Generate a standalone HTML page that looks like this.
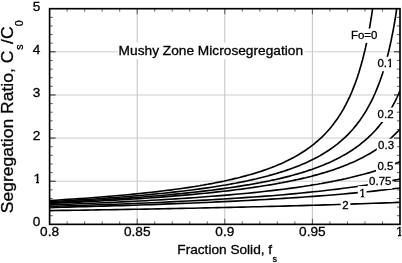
<!DOCTYPE html>
<html><head><meta charset="utf-8"><title>Mushy Zone Microsegregation</title>
<style>
html,body{margin:0;padding:0;background:#fff;}
body{width:402px;height:263px;overflow:hidden;}
svg{display:block;font-family:"Liberation Sans",Arial,Helvetica,sans-serif;fill:#000;}
text{stroke:#000;stroke-width:0.3px;}
</style></head><body>
<svg width="402" height="263" viewBox="0 0 402 263">
<rect width="402" height="263" fill="#fff"/>
<clipPath id="c"><rect x="49.6" y="8.7" width="350.4" height="215.65"/></clipPath>
<path d="M137.20,8.7V224.35 M224.80,8.7V224.35 M312.40,8.7V224.35" stroke="#c6c6c6" stroke-width="1.1" fill="none"/>
<path d="M49.6,181.22H400.0 M49.6,138.09H400.0 M49.6,94.96H400.0 M49.6,51.83H400.0" stroke="#cdcdcd" stroke-width="1" fill="none"/>
<rect x="118" y="42.6" width="186.5" height="16.5" fill="#fff"/>
<text transform="translate(118.6,54.6) scale(1.02,1)" font-size="13.45">Mushy Zone Microsegregation</text>
<g clip-path="url(#c)" stroke="#000" stroke-width="1.65" fill="none" stroke-linejoin="round">
<path d="M49.6,200.5L55.6,200.2L61.6,199.8L67.6,199.4L73.6,199.0L79.6,198.6L85.6,198.2L91.6,197.8L97.6,197.3L103.6,196.8L109.6,196.3L115.6,195.8L121.6,195.3L127.6,194.7L133.6,194.1L139.6,193.5L145.6,192.9L151.6,192.3L157.6,191.6L163.6,190.8L169.6,190.1L175.6,189.3L181.6,188.5L187.6,187.6L193.6,186.7L199.6,185.7L201.6,185.3L203.6,185.0L205.6,184.6L207.6,184.3L209.6,183.9L211.6,183.6L213.6,183.2L215.6,182.8L217.6,182.4L219.6,182.0L221.6,181.6L223.6,181.2L225.6,180.7L227.6,180.3L229.6,179.8L231.6,179.4L233.6,178.9L235.6,178.4L237.6,178.0L239.6,177.5L241.6,176.9L243.6,176.4L245.6,175.9L247.6,175.3L249.6,174.8L251.6,174.2L253.6,173.6L255.6,173.0L257.6,172.4L259.6,171.7L261.6,171.1L263.6,170.4L265.6,169.7L267.6,169.0L269.6,168.3L271.6,167.5L273.6,166.7L275.6,165.9L277.6,165.1L279.6,164.3L281.6,163.4L283.6,162.5L285.6,161.5L287.6,160.6L289.6,159.6L291.6,158.5L293.6,157.5L295.6,156.4L297.6,155.2L299.6,154.0L301.6,152.8L303.6,151.5L305.6,150.2L307.6,148.8L309.6,147.4L311.6,145.9L313.6,144.3L315.6,142.7L317.6,141.0L319.6,139.2L321.6,137.3L323.6,135.3L325.6,133.3L327.5,131.2L329.3,129.2L331.0,127.2L332.7,125.1L334.2,123.1L335.7,121.0L337.2,119.0L338.6,116.9L339.9,114.9L341.2,112.9L342.4,110.8L343.6,108.8L344.7,106.7L345.8,104.7L346.8,102.7L347.8,100.6L348.8,98.6L349.8,96.6L350.7,94.5L351.6,92.5L352.4,90.5L353.2,88.4L354.0,86.4L354.8,84.4L355.6,82.3L356.3,80.3L357.0,78.3L357.7,76.2L358.3,74.2L359.0,72.2L359.6,70.1L360.2,68.1L360.8,66.1L361.4,64.1L361.9,62.0L362.5,60.0L363.0,58.0L363.5,56.0L364.0,53.9L364.5,51.9L365.0,49.9L365.5,47.9L365.9,45.8L366.4,43.8L366.8,41.8L367.2,39.8L367.6,37.7L368.0,35.7L368.4,33.7L368.8,31.7L369.2,29.6L369.6,27.6L369.9,25.6L370.3,23.6L370.6,21.6L370.9,19.5L371.3,17.5L371.6,15.5L371.9,13.5L372.2,11.5L372.5,9.4L372.8,7.4L373.1,5.4L373.4,3.4L373.7,1.4L374.0,-0.7L374.2,-2.7L374.5,-4.7L374.7,-6.7L375.0,-8.7L375.2,-10.8"/>
<path d="M49.6,201.6L55.6,201.3L61.6,201.0L67.6,200.6L73.6,200.3L79.6,199.9L85.6,199.6L91.6,199.2L97.6,198.8L103.6,198.3L109.6,197.9L115.6,197.5L121.6,197.0L127.6,196.5L133.6,196.0L139.6,195.5L145.6,195.0L151.6,194.4L157.6,193.8L163.6,193.2L169.6,192.6L175.6,191.9L181.6,191.2L187.6,190.5L193.6,189.7L199.6,188.9L205.6,188.1L211.6,187.2L217.6,186.3L223.6,185.3L225.6,185.0L227.6,184.6L229.6,184.3L231.6,183.9L233.6,183.5L235.6,183.2L237.6,182.8L239.6,182.4L241.6,182.0L243.6,181.6L245.6,181.2L247.6,180.8L249.6,180.3L251.6,179.9L253.6,179.4L255.6,179.0L257.6,178.5L259.6,178.0L261.6,177.5L263.6,177.0L265.6,176.5L267.6,176.0L269.6,175.4L271.6,174.9L273.6,174.3L275.6,173.7L277.6,173.1L279.6,172.5L281.6,171.9L283.6,171.3L285.6,170.6L287.6,169.9L289.6,169.2L291.6,168.5L293.6,167.8L295.6,167.0L297.6,166.2L299.6,165.4L301.6,164.6L303.6,163.8L305.6,162.9L307.6,162.0L309.6,161.0L311.6,160.1L313.6,159.1L315.6,158.0L317.6,157.0L319.6,155.9L321.6,154.7L323.6,153.5L325.6,152.3L327.6,151.0L329.6,149.7L331.6,148.3L333.6,146.8L335.6,145.3L337.6,143.8L339.6,142.1L341.6,140.4L343.6,138.6L345.6,136.8L347.6,134.8L349.6,132.8L351.5,130.7L353.3,128.7L355.0,126.6L356.7,124.6L358.2,122.5L359.8,120.5L361.2,118.4L362.6,116.4L363.9,114.4L365.2,112.3L366.4,110.3L367.6,108.2L368.7,106.2L369.8,104.2L370.9,102.1L371.9,100.1L372.9,98.1L373.8,96.0L374.8,94.0L375.6,92.0L376.5,89.9L377.3,87.9L378.1,85.9L378.9,83.8L379.7,81.8L380.4,79.8L381.1,77.7L381.8,75.7L382.5,73.7L383.1,71.6L383.7,69.6L384.3,67.6L384.9,65.6L385.5,63.5L386.1,61.5L386.6,59.5L387.2,57.4L387.7,55.4L388.2,53.4L388.7,51.4L389.2,49.3L389.6,47.3L390.1,45.3L390.5,43.3L391.0,41.2L391.4,39.2L391.8,37.2L392.2,35.2L392.6,33.2L393.0,31.1L393.4,29.1L393.8,27.1L394.1,25.1L394.5,23.0L394.8,21.0L395.2,19.0L395.5,17.0L395.8,15.0L396.1,12.9L396.4,10.9L396.7,8.9L397.0,6.9L397.3,4.9L397.6,2.8L397.9,0.8L398.2,-1.2L398.5,-3.2L398.7,-5.2L399.0,-7.3L399.2,-9.3L399.5,-11.3"/>
<path d="M49.6,202.6L55.6,202.3L61.6,202.0L67.6,201.7L73.6,201.4L79.6,201.1L85.6,200.7L91.6,200.4L97.6,200.0L103.6,199.7L109.6,199.3L115.6,198.9L121.6,198.5L127.6,198.1L133.6,197.6L139.6,197.2L145.6,196.7L151.6,196.2L157.6,195.7L163.6,195.2L169.6,194.7L175.6,194.1L181.6,193.5L187.6,192.9L193.6,192.3L199.6,191.6L205.6,190.9L211.6,190.2L217.6,189.4L223.6,188.6L229.6,187.7L235.6,186.9L241.6,185.9L247.6,184.9L249.6,184.6L251.6,184.2L253.6,183.9L255.6,183.5L257.6,183.1L259.6,182.8L261.6,182.4L263.6,182.0L265.6,181.6L267.6,181.2L269.6,180.8L271.6,180.3L273.6,179.9L275.6,179.5L277.6,179.0L279.6,178.6L281.6,178.1L283.6,177.6L285.6,177.1L287.6,176.6L289.6,176.1L291.6,175.5L293.6,175.0L295.6,174.4L297.6,173.9L299.6,173.3L301.6,172.7L303.6,172.1L305.6,171.5L307.6,170.8L309.6,170.1L311.6,169.5L313.6,168.8L315.6,168.0L317.6,167.3L319.6,166.5L321.6,165.8L323.6,165.0L325.6,164.1L327.6,163.3L329.6,162.4L331.6,161.5L333.6,160.5L335.6,159.6L337.6,158.6L339.6,157.5L341.6,156.4L343.6,155.3L345.6,154.2L347.6,153.0L349.6,151.8L351.6,150.5L353.6,149.1L355.6,147.7L357.6,146.3L359.6,144.8L361.6,143.2L363.6,141.6L365.6,139.9L367.6,138.1L369.6,136.2L371.6,134.3L373.6,132.2L375.5,130.2L377.3,128.1L379.0,126.1L380.7,124.0L382.3,122.0L383.8,119.9L385.2,117.9L386.6,115.9L388.0,113.8L389.2,111.8L390.5,109.7L391.7,107.7L392.8,105.7L393.9,103.6L395.0,101.6L396.0,99.6L397.0,97.5L397.9,95.5L398.8,93.5L399.7,91.4L400.0,90.8"/>
<path d="M49.6,203.5L55.6,203.2L61.6,202.9L67.6,202.7L73.6,202.4L79.6,202.1L85.6,201.8L91.6,201.5L97.6,201.2L103.6,200.8L109.6,200.5L115.6,200.1L121.6,199.8L127.6,199.4L133.6,199.0L139.6,198.6L145.6,198.2L151.6,197.8L157.6,197.4L163.6,196.9L169.6,196.4L175.6,195.9L181.6,195.4L187.6,194.9L193.6,194.4L199.6,193.8L205.6,193.2L211.6,192.6L217.6,191.9L223.6,191.3L229.6,190.6L235.6,189.8L241.6,189.1L247.6,188.2L253.6,187.4L259.6,186.5L265.6,185.5L267.6,185.2L269.6,184.9L271.6,184.6L273.6,184.2L275.6,183.9L277.6,183.5L279.6,183.1L281.6,182.8L283.6,182.4L285.6,182.0L287.6,181.6L289.6,181.2L291.6,180.8L293.6,180.4L295.6,179.9L297.6,179.5L299.6,179.1L301.6,178.6L303.6,178.1L305.6,177.7L307.6,177.2L309.6,176.7L311.6,176.2L313.6,175.6L315.6,175.1L317.6,174.6L319.6,174.0L321.6,173.4L323.6,172.9L325.6,172.3L327.6,171.6L329.6,171.0L331.6,170.4L333.6,169.7L335.6,169.0L337.6,168.3L339.6,167.6L341.6,166.8L343.6,166.1L345.6,165.3L347.6,164.5L349.6,163.6L351.6,162.8L353.6,161.9L355.6,161.0L357.6,160.0L359.6,159.1L361.6,158.1L363.6,157.0L365.6,155.9L367.6,154.8L369.6,153.7L371.6,152.5L373.6,151.2L375.6,150.0L377.6,148.6L379.6,147.2L381.6,145.8L383.6,144.3L385.6,142.7L387.6,141.1L389.6,139.4L391.6,137.6L393.6,135.7L395.6,133.7L397.6,131.7L399.5,129.6L400.0,129.1"/>
<path d="M49.6,204.9L55.6,204.7L61.6,204.5L67.6,204.2L73.6,204.0L79.6,203.8L85.6,203.5L91.6,203.3L97.6,203.0L103.6,202.7L109.6,202.5L115.6,202.2L121.6,201.9L127.6,201.6L133.6,201.3L139.6,201.0L145.6,200.7L151.6,200.3L157.6,200.0L163.6,199.6L169.6,199.3L175.6,198.9L181.6,198.5L187.6,198.1L193.6,197.7L199.6,197.3L205.6,196.8L211.6,196.3L217.6,195.9L223.6,195.4L229.6,194.9L235.6,194.3L241.6,193.8L247.6,193.2L253.6,192.6L259.6,192.0L265.6,191.3L271.6,190.6L277.6,189.9L283.6,189.2L289.6,188.4L295.6,187.6L301.6,186.7L307.6,185.8L309.6,185.5L311.6,185.1L313.6,184.8L315.6,184.5L317.6,184.2L319.6,183.8L321.6,183.5L323.6,183.1L325.6,182.7L327.6,182.4L329.6,182.0L331.6,181.6L333.6,181.2L335.6,180.8L337.6,180.4L339.6,180.0L341.6,179.6L343.6,179.1L345.6,178.7L347.6,178.2L349.6,177.8L351.6,177.3L353.6,176.8L355.6,176.3L357.6,175.8L359.6,175.3L361.6,174.8L363.6,174.3L365.6,173.7L367.6,173.1L369.6,172.6L371.6,172.0L373.6,171.4L375.6,170.7L377.6,170.1L379.6,169.5L381.6,168.8L383.6,168.1L385.6,167.4L387.6,166.7L389.6,165.9L391.6,165.1L393.6,164.3L395.6,163.5L397.6,162.7L399.6,161.8L400.0,161.6"/>
<path d="M49.6,206.4L55.6,206.2L61.6,206.0L67.6,205.8L73.6,205.6L79.6,205.5L85.6,205.3L91.6,205.0L97.6,204.8L103.6,204.6L109.6,204.4L115.6,204.2L121.6,204.0L127.6,203.7L133.6,203.5L139.6,203.2L145.6,203.0L151.6,202.7L157.6,202.5L163.6,202.2L169.6,201.9L175.6,201.6L181.6,201.3L187.6,201.0L193.6,200.7L199.6,200.4L205.6,200.1L211.6,199.7L217.6,199.4L223.6,199.0L229.6,198.6L235.6,198.3L241.6,197.9L247.6,197.4L253.6,197.0L259.6,196.6L265.6,196.1L271.6,195.7L277.6,195.2L283.6,194.7L289.6,194.1L295.6,193.6L301.6,193.0L307.6,192.4L313.6,191.8L319.6,191.2L325.6,190.5L331.6,189.8L337.6,189.1L343.6,188.3L349.6,187.5L355.6,186.7L361.6,185.8L363.6,185.5L365.6,185.2L367.6,184.9L369.6,184.6L371.6,184.3L373.6,183.9L375.6,183.6L377.6,183.2L379.6,182.9L381.6,182.5L383.6,182.2L385.6,181.8L387.6,181.4L389.6,181.1L391.6,180.7L393.6,180.3L395.6,179.9L397.6,179.5L399.6,179.0L400.0,178.9"/>
<path d="M49.6,207.6L55.6,207.4L61.6,207.3L67.6,207.1L73.6,206.9L79.6,206.8L85.6,206.6L91.6,206.4L97.6,206.3L103.6,206.1L109.6,205.9L115.6,205.7L121.6,205.6L127.6,205.4L133.6,205.2L139.6,205.0L145.6,204.8L151.6,204.6L157.6,204.4L163.6,204.1L169.6,203.9L175.6,203.7L181.6,203.4L187.6,203.2L193.6,203.0L199.6,202.7L205.6,202.5L211.6,202.2L217.6,201.9L223.6,201.6L229.6,201.4L235.6,201.1L241.6,200.8L247.6,200.5L253.6,200.1L259.6,199.8L265.6,199.5L271.6,199.1L277.6,198.8L283.6,198.4L289.6,198.0L295.6,197.6L301.6,197.2L307.6,196.8L313.6,196.4L319.6,195.9L325.6,195.5L331.6,195.0L337.6,194.5L343.6,194.0L349.6,193.4L355.6,192.9L361.6,192.3L367.6,191.7L373.6,191.1L379.6,190.4L385.6,189.7L391.6,189.0L397.6,188.3L400.0,188.0"/>
<path d="M49.6,210.6L55.6,210.5L61.6,210.4L67.6,210.4L73.6,210.3L79.6,210.2L85.6,210.1L91.6,210.0L97.6,209.9L103.6,209.8L109.6,209.7L115.6,209.6L121.6,209.5L127.6,209.4L133.6,209.3L139.6,209.2L145.6,209.1L151.6,209.0L157.6,208.9L163.6,208.7L169.6,208.6L175.6,208.5L181.6,208.4L187.6,208.3L193.6,208.2L199.6,208.0L205.6,207.9L211.6,207.8L217.6,207.6L223.6,207.5L229.6,207.4L235.6,207.2L241.6,207.1L247.6,207.0L253.6,206.8L259.6,206.7L265.6,206.5L271.6,206.4L277.6,206.2L283.6,206.1L289.6,205.9L295.6,205.7L301.6,205.6L307.6,205.4L313.6,205.2L319.6,205.1L325.6,204.9L331.6,204.7L337.6,204.5L343.6,204.3L349.6,204.1L355.6,203.9L361.6,203.7L367.6,203.5L373.6,203.3L379.6,203.1L385.6,202.9L391.6,202.7L397.6,202.4L400.0,202.3"/>
</g>
<rect x="349.6" y="28.5" width="28.7" height="14.4" fill="#fff"/>
<text transform="translate(350.9,39.1) scale(0.98,1)" font-size="11.7">Fo=0</text>
<rect x="376.0" y="56.8" width="18.2" height="14.4" fill="#fff"/>
<text transform="translate(377.4,67.4) scale(0.98,1)" font-size="11.7">0.1</text>
<rect x="386.78" y="66.00" width="2.22" height="2.00" fill="#fff"/><rect x="391.00" y="66.00" width="2.93" height="2.00" fill="#fff"/>
<rect x="376.2" y="107.6" width="18.2" height="14.4" fill="#fff"/>
<text transform="translate(377.6,118.2) scale(0.98,1)" font-size="11.7">0.2</text>
<rect x="376.8" y="138.7" width="18.2" height="14.4" fill="#fff"/>
<text transform="translate(378.1,149.3) scale(0.98,1)" font-size="11.7">0.3</text>
<rect x="376.0" y="159.8" width="19.0" height="14.4" fill="#fff"/>
<text transform="translate(377.4,170.4) scale(0.98,1)" font-size="11.7">0.5</text>
<rect x="367.8" y="174.4" width="24.5" height="14.4" fill="#fff"/>
<text transform="translate(369.1,185.0) scale(0.98,1)" font-size="11.7">0.75</text>
<rect x="357.8" y="186.1" width="8.7" height="14.4" fill="#fff"/>
<text transform="translate(359.2,196.7) scale(0.98,1)" font-size="11.7">1</text>
<rect x="359.07" y="195.00" width="1.93" height="2.00" fill="#fff"/><rect x="364.00" y="195.00" width="2.21" height="2.00" fill="#fff"/>
<rect x="340.7" y="198.8" width="9.7" height="14.4" fill="#fff"/>
<text transform="translate(342.2,209.4) scale(0.98,1)" font-size="11.7">2</text>
<path d="M67.12,224.35V221.35M67.12,8.7V11.7 M84.64,224.35V221.35M84.64,8.7V11.7 M102.16,224.35V221.35M102.16,8.7V11.7 M119.68,224.35V221.35M119.68,8.7V11.7 M154.72,224.35V221.35M154.72,8.7V11.7 M172.24,224.35V221.35M172.24,8.7V11.7 M189.76,224.35V221.35M189.76,8.7V11.7 M207.28,224.35V221.35M207.28,8.7V11.7 M242.32,224.35V221.35M242.32,8.7V11.7 M259.84,224.35V221.35M259.84,8.7V11.7 M277.36,224.35V221.35M277.36,8.7V11.7 M294.88,224.35V221.35M294.88,8.7V11.7 M329.92,224.35V221.35M329.92,8.7V11.7 M347.44,224.35V221.35M347.44,8.7V11.7 M364.96,224.35V221.35M364.96,8.7V11.7 M382.48,224.35V221.35M382.48,8.7V11.7" stroke="#2a2a2a" stroke-width="0.7" fill="none"/>
<path d="M137.20,224.35V218.85M137.20,8.7V14.2 M224.80,224.35V218.85M224.80,8.7V14.2 M312.40,224.35V218.85M312.40,8.7V14.2" stroke="#333" stroke-width="0.8" fill="none"/>
<path d="M49.6,215.72H52.7M400.0,215.72H396.9 M49.6,207.10H52.7M400.0,207.10H396.9 M49.6,198.47H52.7M400.0,198.47H396.9 M49.6,189.85H52.7M400.0,189.85H396.9 M49.6,172.59H52.7M400.0,172.59H396.9 M49.6,163.97H52.7M400.0,163.97H396.9 M49.6,155.34H52.7M400.0,155.34H396.9 M49.6,146.72H52.7M400.0,146.72H396.9 M49.6,129.46H52.7M400.0,129.46H396.9 M49.6,120.84H52.7M400.0,120.84H396.9 M49.6,112.21H52.7M400.0,112.21H396.9 M49.6,103.59H52.7M400.0,103.59H396.9 M49.6,86.33H52.7M400.0,86.33H396.9 M49.6,77.71H52.7M400.0,77.71H396.9 M49.6,69.08H52.7M400.0,69.08H396.9 M49.6,60.46H52.7M400.0,60.46H396.9 M49.6,43.20H52.7M400.0,43.20H396.9 M49.6,34.58H52.7M400.0,34.58H396.9 M49.6,25.95H52.7M400.0,25.95H396.9 M49.6,17.33H52.7M400.0,17.33H396.9" stroke="#333" stroke-width="0.8" fill="none"/>
<path d="M49.6,181.22H55.6M400.0,181.22H394.0 M49.6,138.09H55.6M400.0,138.09H394.0 M49.6,94.96H55.6M400.0,94.96H394.0 M49.6,51.83H55.6M400.0,51.83H394.0" stroke="#222" stroke-width="1" fill="none"/>
<rect x="49.6" y="8.7" width="350.4" height="215.65" fill="none" stroke="#000" stroke-width="1.65"/>
<text transform="translate(49.6,236.3) scale(1.02,1)" font-size="13.4" text-anchor="middle">0.8</text><text transform="translate(137.2,236.3) scale(1.02,1)" font-size="13.4" text-anchor="middle">0.85</text><text transform="translate(224.8,236.3) scale(1.02,1)" font-size="13.4" text-anchor="middle">0.9</text><text transform="translate(312.4,236.3) scale(1.02,1)" font-size="13.4" text-anchor="middle">0.95</text><text transform="translate(399.5,236.3) scale(1.02,1)" font-size="13.4" text-anchor="middle">1</text>
<text transform="translate(40.4,226.2) scale(1.02,1)" font-size="13.4" text-anchor="end">0</text><text transform="translate(41.0,183.1) scale(1.02,1)" font-size="13.4" text-anchor="end">1</text><text transform="translate(40.4,140.0) scale(1.02,1)" font-size="13.4" text-anchor="end">2</text><text transform="translate(40.4,96.9) scale(1.02,1)" font-size="13.4" text-anchor="end">3</text><text transform="translate(40.4,53.7) scale(1.02,1)" font-size="13.4" text-anchor="end">4</text><text transform="translate(40.4,10.6) scale(1.02,1)" font-size="13.4" text-anchor="end">5</text>
<rect x="395.74" y="235.00" width="2.26" height="2.00" fill="#fff"/><rect x="401.00" y="235.00" width="2.83" height="2.00" fill="#fff"/><rect x="33.44" y="181.00" width="2.56" height="3.00" fill="#fff"/><rect x="39.00" y="181.00" width="2.53" height="3.00" fill="#fff"/>
<text transform="translate(177.3,254.1) scale(1.02,1)" font-size="13.4">Fraction Solid, f<tspan font-size="8.8" dx="0.3" dy="7.8">s</tspan></text>
<text transform="translate(13,213.2) rotate(-90) scale(1.03,1)" font-size="17.0">Segregation Ratio, C<tspan font-size="10.3" dy="10.2" dx="1">s</tspan><tspan dy="-10.2" dx="0.5">/C</tspan><tspan font-size="10.3" dy="10.2" dx="0">0</tspan></text>
</svg>
</body></html>
